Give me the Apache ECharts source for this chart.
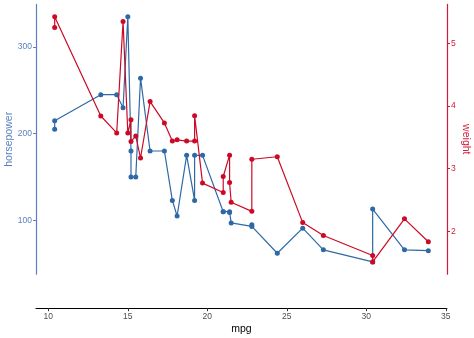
<!DOCTYPE html>
<html>
<head>
<meta charset="utf-8">
<script src="https://cdn.jsdelivr.net/npm/echarts@6/dist/echarts.min.js"></script>
<style>
  html, body { margin: 0; padding: 0; background: #ffffff; }
  #chart { width: 474px; height: 338px; }
</style>
</head>
<body>
<div id="chart"></div>
<script>
// Cars ordered by fuel economy (ties keep their original order)
const mpg = [10.4, 10.4, 13.3, 14.3, 14.7, 15.0, 15.2, 15.2, 15.5, 15.8, 16.4, 17.3, 17.8, 18.1, 18.7,
             19.2, 19.2, 19.7, 21.0, 21.0, 21.4, 21.4, 21.5, 22.8, 22.8, 24.4, 26.0, 27.3, 30.4, 30.4, 32.4, 33.9];
const horsepower = [205, 215, 245, 245, 230, 335, 180, 150, 150, 264, 180, 180, 123, 105, 175,
                    123, 175, 175, 110, 110, 110, 109, 97, 93, 95, 62, 91, 66, 52, 113, 66, 65];
const weight = [5.250, 5.424, 3.840, 3.570, 5.345, 3.570, 3.780, 3.435, 3.520, 3.170, 4.070, 3.730, 3.440, 3.460, 3.440,
                3.440, 3.845, 2.770, 2.620, 2.875, 3.215, 2.780, 2.465, 2.320, 3.150, 3.190, 2.140, 1.935, 1.615, 1.513, 2.200, 1.835];

const xTicks = [10, 15, 20, 25, 30, 35];
const hpTicks = [100, 200, 300];
const wtTicks = [2, 3, 4, 5];

const blue = '#2E69A6';
const red = '#CC0A26';
const blueAxis = '#5A80BF';
const redAxis = '#D01C3C';

// Padded ranges (5% on each side); weight range is aligned with horsepower range
function padded(arr) {
  const lo = Math.min(...arr), hi = Math.max(...arr), d = (hi - lo) * 0.05;
  return [lo - d, hi + d];
}
const xr = padded(mpg);
const hr = padded(horsepower);
const wr = padded(weight);

const font = 'Liberation Sans, Arial, sans-serif';

const chart = echarts.init(document.getElementById('chart'), null, { renderer: 'canvas' });
chart.setOption({
  animation: false,
  backgroundColor: '#ffffff',
  grid: { left: 36, right: 27, top: 4.4, bottom: 63.8, containLabel: false, outerBoundsMode: 'none' },
  xAxis: {
    type: 'value',
    min: xr[0], max: xr[1],
    offset: 34,
    name: 'mpg',
    nameLocation: 'middle',
    nameGap: 15.5,
    nameMoveOverlap: false,
    nameTextStyle: { color: '#000000', fontSize: 10.5, fontFamily: font },
    axisLine: { show: true, lineStyle: { color: '#000000', width: 1 } },
    axisTick: { show: true, length: 3, inside: false, customValues: xTicks, lineStyle: { color: '#333333' } },
    axisLabel: { customValues: xTicks, color: '#4d4d4d', fontSize: 8.5, fontFamily: font, margin: 4 },
    splitLine: { show: false }
  },
  yAxis: [
    {
      type: 'value',
      position: 'left',
      min: hr[0], max: hr[1],
      name: 'horsepower',
      nameLocation: 'middle',
      nameGap: 21,
      nameMoveOverlap: false,
      nameRotate: 90,
      nameTextStyle: { color: blueAxis, fontSize: 10.5, fontFamily: font },
      axisLine: { show: true, lineStyle: { color: blueAxis, width: 1.2 } },
      axisTick: { show: true, length: 3, customValues: hpTicks, lineStyle: { color: blueAxis } },
      axisLabel: { customValues: hpTicks, color: blueAxis, fontSize: 8.5, fontFamily: font, margin: 4 },
      splitLine: { show: false }
    },
    {
      type: 'value',
      position: 'right',
      min: wr[0], max: wr[1],
      name: 'weight',
      nameLocation: 'middle',
      nameGap: 13,
      nameMoveOverlap: false,
      nameRotate: -90,
      nameTextStyle: { color: redAxis, fontSize: 10.5, fontFamily: font },
      axisLine: { show: true, lineStyle: { color: redAxis, width: 1.2 } },
      axisTick: { show: true, length: 3, customValues: wtTicks, lineStyle: { color: redAxis } },
      axisLabel: { customValues: wtTicks, color: redAxis, fontSize: 8.5, fontFamily: font, margin: 4 },
      splitLine: { show: false }
    }
  ],
  series: [
    {
      name: 'horsepower',
      type: 'line',
      yAxisIndex: 0,
      data: mpg.map((m, i) => [m, horsepower[i]]),
      symbol: 'circle',
      symbolSize: 5,
      showAllSymbol: true,
      lineStyle: { color: blue, width: 1.2 },
      itemStyle: { color: blue },
      z: 2
    },
    {
      name: 'weight',
      type: 'line',
      yAxisIndex: 1,
      data: mpg.map((m, i) => [m, weight[i]]),
      symbol: 'circle',
      symbolSize: 5,
      showAllSymbol: true,
      lineStyle: { color: red, width: 1.2 },
      itemStyle: { color: red },
      z: 3
    }
  ]
});
</script>
</body>
</html>
